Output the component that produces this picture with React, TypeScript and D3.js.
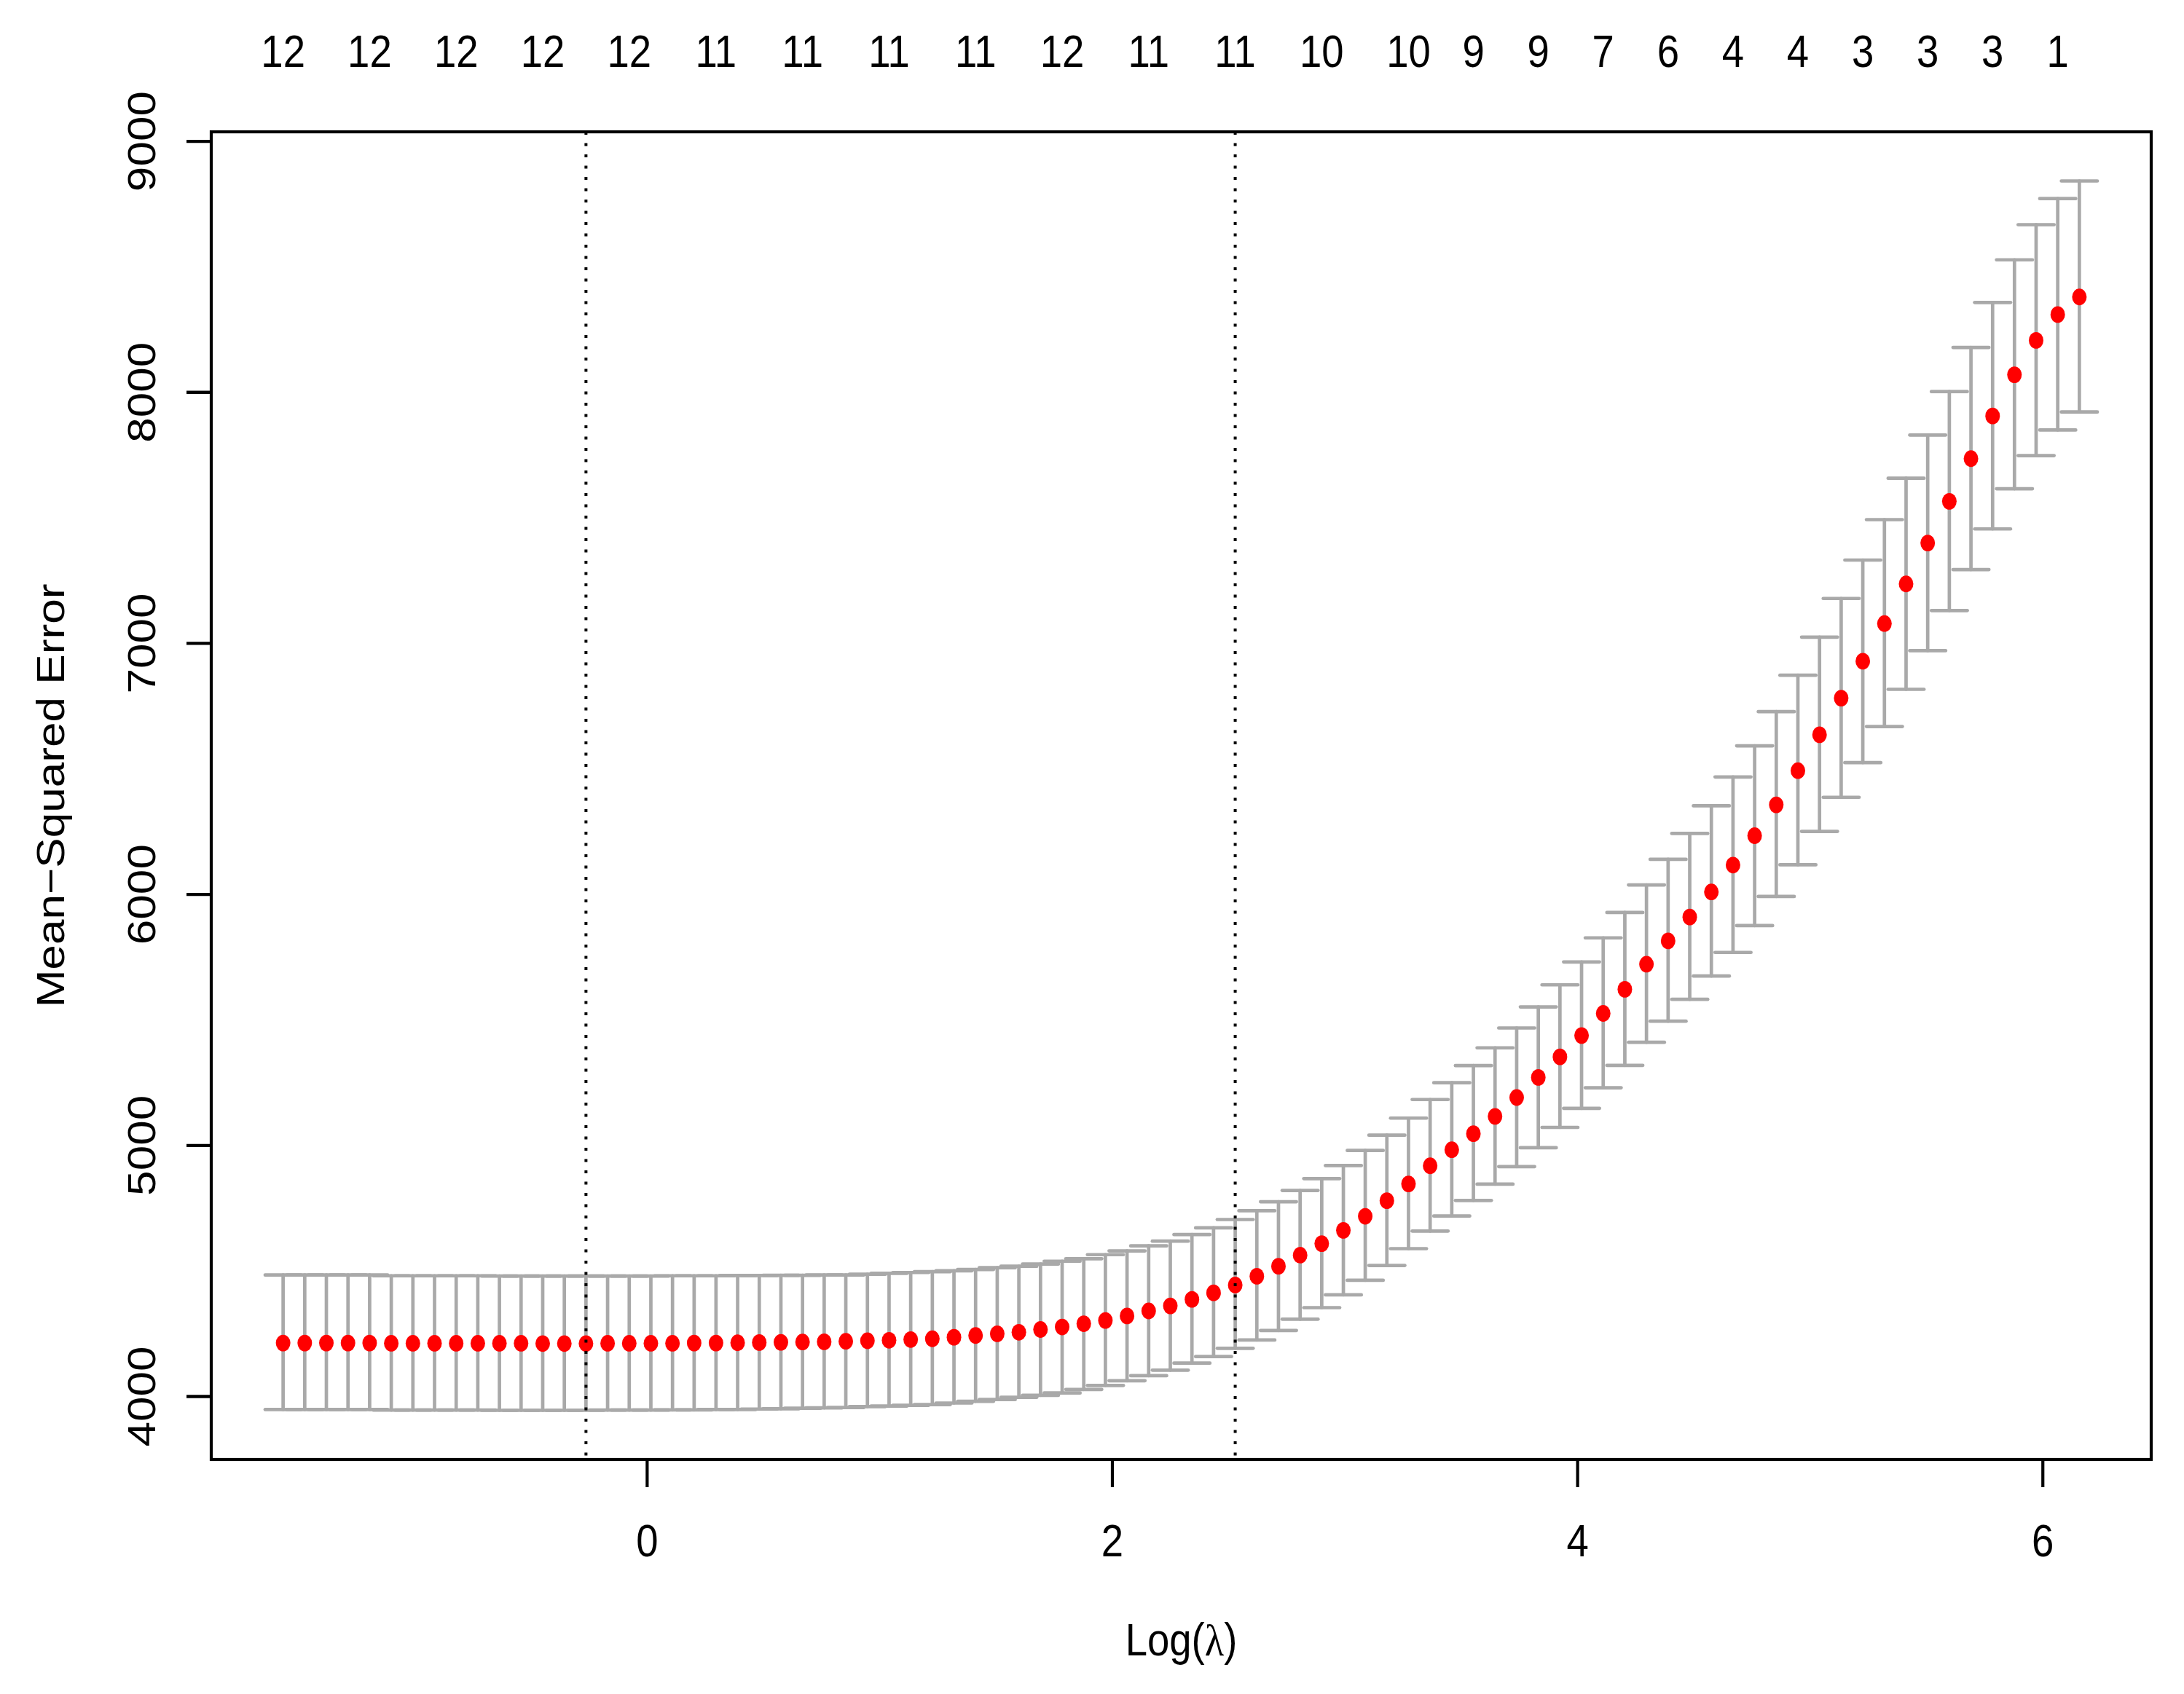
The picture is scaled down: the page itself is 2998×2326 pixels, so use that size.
import React, { useEffect, useRef } from "react";
import * as d3 from "d3";

// log(lambda) path, one value per fitted lambda (left to right)
const logLambda = [
  -1.565, -1.472, -1.379, -1.286, -1.193, -1.1, -1.007, -0.914, -0.821, -0.728,
  -0.635, -0.542, -0.449, -0.356, -0.263, -0.17, -0.077, 0.016, 0.109, 0.202,
  0.296, 0.389, 0.482, 0.575, 0.668, 0.761, 0.854, 0.947, 1.04, 1.133,
  1.226, 1.319, 1.412, 1.505, 1.598, 1.691, 1.784, 1.877, 1.97, 2.063,
  2.156, 2.249, 2.342, 2.435, 2.528, 2.621, 2.714, 2.807, 2.9, 2.993,
  3.087, 3.18, 3.273, 3.366, 3.459, 3.552, 3.645, 3.738, 3.831, 3.924,
  4.017, 4.11, 4.203, 4.296, 4.389, 4.482, 4.575, 4.668, 4.761, 4.854,
  4.947, 5.04, 5.133, 5.226, 5.319, 5.412, 5.505, 5.598, 5.691, 5.784,
  5.878, 5.971, 6.064, 6.157,
];

// cross-validated mean squared error
const cvMean = [
  4213, 4213, 4213, 4213, 4213, 4212, 4212, 4212, 4212, 4212,
  4212, 4212, 4211, 4211, 4211, 4212, 4212, 4212, 4212, 4213,
  4213, 4214, 4215, 4216, 4217, 4218, 4220, 4222, 4224, 4227,
  4230, 4236, 4243, 4250, 4256, 4267, 4277, 4290, 4303, 4321,
  4341, 4361, 4387, 4413, 4444, 4479, 4519, 4563, 4609, 4662,
  4718, 4780, 4847, 4919, 4983, 5047, 5116, 5191, 5271, 5353,
  5438, 5526, 5622, 5722, 5815, 5910, 6010, 6117, 6234, 6357,
  6493, 6636, 6782, 6929, 7079, 7237, 7400, 7566, 7736, 7906,
  8070, 8207, 8310, 8380,
];

// mean + 1 SE
const cvUpper = [
  4484, 4484, 4484, 4484, 4484, 4481, 4481, 4481, 4481, 4481,
  4480, 4480, 4480, 4480, 4480, 4480, 4480, 4480, 4481, 4481,
  4481, 4482, 4482, 4483, 4483, 4484, 4484, 4487, 4491, 4494,
  4497, 4501, 4506, 4513, 4519, 4528, 4539, 4549, 4565, 4580,
  4600, 4619, 4645, 4672, 4705, 4740, 4776, 4821, 4868, 4920,
  4980, 5041, 5109, 5183, 5250, 5318, 5389, 5468, 5552, 5640,
  5731, 5827, 5928, 6038, 6140, 6243, 6353, 6468, 6592, 6728,
  6873, 7025, 7179, 7332, 7493, 7658, 7830, 8003, 8179, 8358,
  8528, 8668, 8772, 8842,
];

// mean - 1 SE
const cvLower = [
  3948, 3948, 3948, 3948, 3948, 3946, 3946, 3946, 3946, 3946,
  3945, 3945, 3945, 3945, 3945, 3946, 3946, 3946, 3947, 3947,
  3948, 3948, 3950, 3951, 3953, 3955, 3956, 3960, 3962, 3965,
  3968, 3974, 3981, 3988, 3997, 4005, 4014, 4028, 4044, 4063,
  4083, 4105, 4133, 4159, 4192, 4225, 4263, 4308, 4354, 4405,
  4463, 4522, 4589, 4659, 4719, 4781, 4846, 4916, 4991, 5072,
  5148, 5230, 5319, 5411, 5495, 5582, 5675, 5769, 5876, 5992,
  6118, 6251, 6387, 6525, 6669, 6817, 6971, 7131, 7294, 7456,
  7616, 7748, 7850, 7922,
];

// number of non-zero coefficients shown on the top axis
const nzIndex = [0, 4, 8, 12, 16, 20, 24, 28, 32, 36, 40, 44, 48, 52, 55, 58, 61, 64, 67, 70, 73, 76, 79, 82];
const nzLabels = ["12", "12", "12", "12", "12", "11", "11", "11", "11", "12", "11", "11", "10", "10", "9", "9", "7", "6", "4", "4", "3", "3", "3", "1"];

const xTicks = [0, 2, 4, 6];
const yTicks = [4000, 5000, 6000, 7000, 8000, 9000];

const lambdaMinLog = -0.263;
const lambda1seLog = 2.528;

const width = 2998;
const height = 2326;
const plot = { left: 290, right: 2953, top: 181, bottom: 2004 };
const fontSize = 54.5;
const stretch = 1.14; // picture is a bit taller than wide
const fontFamily = "'Liberation Sans', Arial, Helvetica, sans-serif";

type Sel = d3.Selection<SVGSVGElement, unknown, null, undefined>;

// text helper: places text at (x, y) with the vertical stretch
const addText = (
  svg: Sel,
  x: number,
  y: number,
  label: string,
  rotate = 0
) => {
  return svg
    .append("text")
    .attr("transform", `translate(${x},${y}) scale(1,${stretch}) rotate(${rotate})`)
    .attr("text-anchor", "middle")
    .attr("font-family", fontFamily)
    .attr("font-size", fontSize)
    .attr("fill", "black")
    .text(label);
};

export default function App() {
  const ref = useRef<SVGSVGElement>(null);

  useEffect(() => {
    const svg = d3.select(ref.current as SVGSVGElement) as Sel;
    svg.selectAll("*").remove();

    svg.append("rect").attr("width", width).attr("height", height).attr("fill", "white");

    // R style 4% padding of the data range
    const xExt = d3.extent(logLambda) as [number, number];
    const xPad = (xExt[1] - xExt[0]) * 0.04;
    const yMin = d3.min(cvLower) as number;
    const yMax = d3.max(cvUpper) as number;
    const yPad = (yMax - yMin) * 0.04;

    const x = d3.scaleLinear().domain([xExt[0] - xPad, xExt[1] + xPad]).range([plot.left, plot.right]);
    const y = d3.scaleLinear().domain([yMin - yPad, yMax + yPad]).range([plot.bottom, plot.top]);

    // error bars
    const barw = (xExt[1] - xExt[0]) * 0.01;
    const bars = svg.append("g").attr("stroke", "#A9A9A9").attr("stroke-width", 4.7).attr("stroke-linecap", "round");
    logLambda.forEach((lx, i) => {
      bars.append("line").attr("x1", x(lx)).attr("x2", x(lx)).attr("y1", y(cvUpper[i])).attr("y2", y(cvLower[i]));
      bars.append("line").attr("x1", x(lx - barw)).attr("x2", x(lx + barw)).attr("y1", y(cvUpper[i])).attr("y2", y(cvUpper[i]));
      bars.append("line").attr("x1", x(lx - barw)).attr("x2", x(lx + barw)).attr("y1", y(cvLower[i])).attr("y2", y(cvLower[i]));
    });

    // mean points
    svg
      .append("g")
      .selectAll("ellipse")
      .data(cvMean)
      .join("ellipse")
      .attr("cx", (_, i) => x(logLambda[i]))
      .attr("cy", (d) => y(d))
      .attr("rx", 10)
      .attr("ry", 10 * stretch)
      .attr("fill", "#FF0000");

    // dotted lines for lambda.min and lambda.1se
    [lambdaMinLog, lambda1seLog].forEach((v) => {
      svg
        .append("line")
        .attr("x1", x(v))
        .attr("x2", x(v))
        .attr("y1", plot.top)
        .attr("y2", plot.bottom)
        .attr("stroke", "black")
        .attr("stroke-width", 4)
        .attr("stroke-dasharray", "4 11.5");
    });

    // box
    svg
      .append("rect")
      .attr("x", plot.left)
      .attr("y", plot.top)
      .attr("width", plot.right - plot.left)
      .attr("height", plot.bottom - plot.top)
      .attr("fill", "none")
      .attr("stroke", "black")
      .attr("stroke-width", 4.2);

    // x ticks
    xTicks.forEach((t) => {
      svg.append("line").attr("x1", x(t)).attr("x2", x(t)).attr("y1", plot.bottom).attr("y2", plot.bottom + 38)
        .attr("stroke", "black").attr("stroke-width", 4.2);
      addText(svg, x(t), 2137, String(t));
    });

    // y ticks
    yTicks.forEach((t) => {
      svg.append("line").attr("x1", plot.left).attr("x2", plot.left - 34).attr("y1", y(t)).attr("y2", y(t))
        .attr("stroke", "black").attr("stroke-width", 4.3);
      addText(svg, 213, y(t), String(t), -90);
    });

    // top axis: non-zero counts
    nzIndex.forEach((idx, k) => {
      addText(svg, x(logLambda[idx]), 92, nzLabels[k]);
    });

    // axis titles
    const xlab = addText(svg, (plot.left + plot.right) / 2, 2273, "");
    xlab.append("tspan").text("Log(");
    xlab.append("tspan").attr("font-family", "'Liberation Serif', 'DejaVu Serif', serif").text("λ");
    xlab.append("tspan").text(")");
    addText(svg, 88, (plot.top + plot.bottom) / 2, "Mean−Squared Error", -90);
  }, []);

  return (
    <svg
      ref={ref}
      width={width}
      height={height}
      style={{ position: "absolute", left: 0, top: 0, display: "block" }}
    />
  );
}
